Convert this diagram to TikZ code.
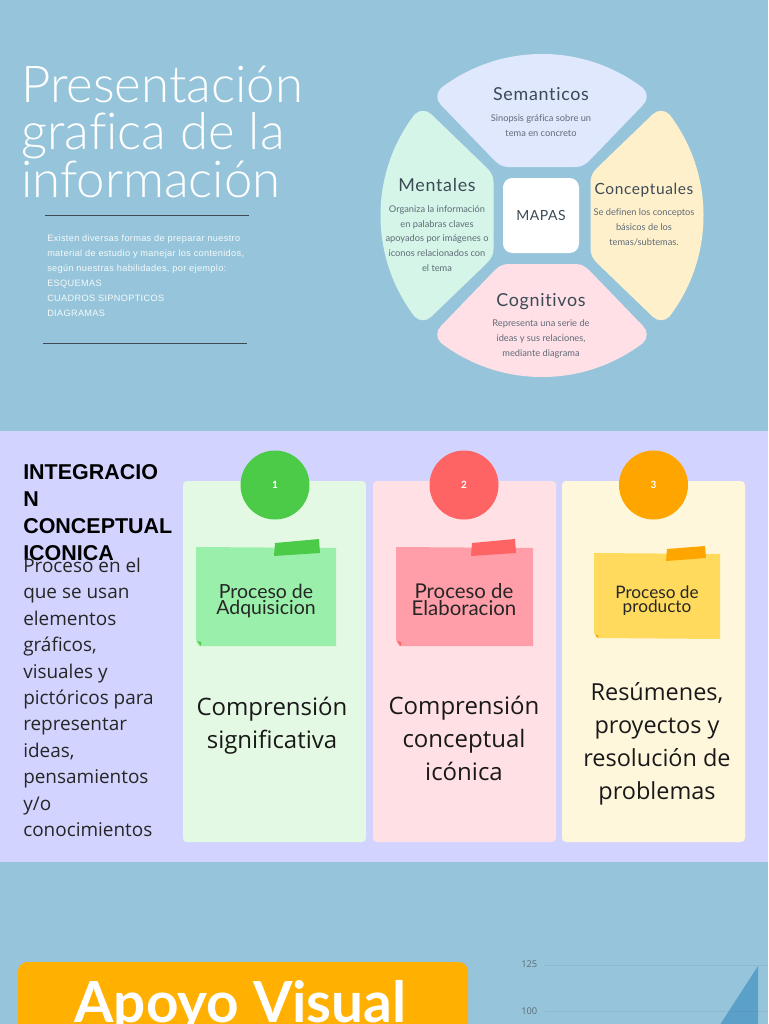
\documentclass[tikz,border=0pt]{standalone}
\usepackage{fontspec}
\setmainfont{Open Sans}
\newfontfamily\ttlf[Ligatures=NoCommon]{Lato Light}
\newfontfamily\headf[LetterSpace=4,Ligatures=NoCommon]{Lato}
\newfontfamily\smallf[Ligatures=NoCommon]{Lato}
\newfontfamily\tinyf[LetterSpace=3.5]{Liberation Sans}
\newfontfamily\arialf{Liberation Sans}
\newcommand{\fs}[2]{\fontsize{#1}{#2}\selectfont}
\definecolor{bgblue}{HTML}{96C5DB}
\definecolor{bglav}{HTML}{D2D4FF}
\definecolor{inkgrey}{HTML}{5F6B78}
\definecolor{inkdark}{HTML}{3C4A55}
\definecolor{petalblue}{HTML}{E0E8FD}
\definecolor{petalgreen}{HTML}{D5F5E8}
\definecolor{petalpink}{HTML}{FFE0E6}
\definecolor{petalyellow}{HTML}{FFF0CC}
\definecolor{cardgreen}{HTML}{E4F9E4}
\definecolor{cardpink}{HTML}{FFE0E4}
\definecolor{cardyellow}{HTML}{FFF7DC}
\definecolor{dotgreen}{HTML}{4CCB49}
\definecolor{dotred}{HTML}{FF6464}
\definecolor{dotorange}{HTML}{FFA500}
\definecolor{notegreen}{HTML}{9AF0AA}
\definecolor{notepink}{HTML}{FF9DA8}
\definecolor{noteyellow}{HTML}{FFDA5C}
\definecolor{banner}{HTML}{FFB000}
\definecolor{chartfill}{HTML}{5AA0C8}
\newcommand{\petal}{(-101,-127.5) .. controls (-72,-149.5) and (-37,-161.5) .. (0,-161.5) .. controls (37,-161.5) and (72,-149.5) .. (101,-127.5) .. controls (106,-122.5) and (106,-115.5) .. (101,-110.5) -- (48,-55.5) .. controls (43,-50.5) and (39,-48.5) .. (33,-48.5) -- (-33,-48.5) .. controls (-39,-48.5) and (-43,-50.5) .. (-48,-55.5) -- (-101,-110.5) .. controls (-106,-115.5) and (-106,-122.5) .. (-101,-127.5) -- cycle}
\tikzset{
 px/.style={x=0.75pt,y=-0.75pt},
 head/.style={text=inkdark,font=\headf\fs{13.4}{15}},
 body/.style={text=inkgrey,align=center,font=\smallf\fs{6.95}{11.1}},
 card/.style={rounded corners=3pt},
 num/.style={circle,minimum size=51.75pt,inner sep=0pt,text=white,font=\smallf\bfseries\fs{7.5}{9}},
 note/.style={text=black!85,align=center,font=\smallf\fs{14.6}{11.3}},
 big/.style={text=black!90,align=center,font=\fs{18}{24.7}},
 rule/.style={draw=inkdark,line width=0.6pt},
 axisnum/.style={text=inkgrey,font=\fs{7}{9},anchor=east},
 gridl/.style={draw=inkgrey,draw opacity=0.14,line width=0.6pt},
}
\begin{document}
\begin{tikzpicture}[px]
\useasboundingbox (0,0) rectangle (768,1024);
\fill[bgblue] (0,0) rectangle (768,1024);
\fill[bglav] (0,431) rectangle (768,862);
% title
\node[anchor=north west,inner sep=0pt,text=white,align=left,font=\ttlf\fs{38.2}{35.6}] (title) at (21,65.5) {Presentación\\grafica de la\\información};
\draw[rule] (45,215) -- (249,215);
\draw[rule] (43,343.5) -- (247,343.5);
\node[anchor=north west,inner sep=0pt,text=white!90!bgblue,align=left,font=\tinyf\fs{6.9}{11.25}] (intro) at (47,235) {Existen diversas formas de preparar nuestro\\material de estudio y manejar los contenidos,\\según nuestras habilidades, por ejemplo:\\ESQUEMAS\\CUADROS SIPNOPTICOS\\DIAGRAMAS};
% wheel
\begin{scope}[shift={(542,215.5)}]
\fill[petalblue] \petal;
\end{scope}
\begin{scope}[shift={(542,215.5)},rotate=90]
\fill[petalgreen] \petal;
\end{scope}
\begin{scope}[shift={(542,215.5)},rotate=180]
\fill[petalpink] \petal;
\end{scope}
\begin{scope}[shift={(542,215.5)},rotate=270]
\fill[petalyellow] \petal;
\end{scope}
\fill[white,rounded corners=7pt] (503,178) rectangle (579,253);
\node[text=inkdark,font=\headf\fs{10.5}{12}] (mapas) at (541,215.5) {MAPAS};
\node[head] (sem) at (541,94) {Semanticos};
\node[body] (semb) at (541,125.5) {Sinopsis gráfica sobre un\\tema en concreto};
\node[head] (men) at (437,184.5) {Mentales};
\node[body] (menb) at (437,238.5) {Organiza la información\\en palabras claves\\apoyados por imágenes o\\iconos relacionados con\\el tema};
\node[head,font=\headf\fs{11.6}{15}] (con) at (644,190.5) {Conceptuales};
\node[body] (conb) at (644,227) {Se definen los conceptos\\básicos de los\\temas/subtemas.};
\node[head] (cog) at (541,301.5) {Cognitivos};
\node[body] (cogb) at (541,339) {Representa una serie de\\ideas y sus relaciones,\\mediante diagrama};
% left column
\node[anchor=north west,inner sep=0pt,text=black,align=left,font=\arialf\bfseries\fs{16.1}{20.2}] (integ) at (23,464.5) {INTEGRACIO\\N\\CONCEPTUAL\\ICONICA};
\node[anchor=north west,inner sep=0pt,text=black!85,align=left,font=\fs{14.2}{19.85}] (proc) at (23,557.5) {Proceso en el\\que se usan\\elementos\\gráficos,\\visuales y\\pictóricos para\\representar\\ideas,\\pensamientos\\y/o\\conocimientos};
% cards
\fill[cardgreen,card] (183,481) rectangle (366,842);
\fill[cardpink,card] (373,481) rectangle (556,842);
\fill[cardyellow,card] (562,481) rectangle (745,842);
\node[num,fill=dotgreen] (n1) at (275,485) {1};
\node[num,fill=dotred] (n2) at (464,485) {2};
\node[num,fill=dotorange] (n3) at (653.5,485) {3};
% sticky notes
\fill[notegreen] (196,547) -- (336,548) -- (336,646) -- (199,646) -- (196,640) -- cycle;
\fill[dotgreen] (275,543) -- (319,539) -- (320,553) -- (274,556) -- cycle;
\fill[dotgreen] (197,641) -- (201,642) -- (201,646) -- cycle;
\fill[notepink] (396,547) -- (533,548) -- (533,646) -- (399,646) -- (396,640) -- cycle;
\fill[dotred] (472,543) -- (515,539) -- (516,553) -- (471,556) -- cycle;
\fill[dotred] (397,641) -- (401,642) -- (401,646) -- cycle;
\fill[noteyellow] (594,553) -- (720,554) -- (720,639) -- (597,638) -- (594,633) -- cycle;
\fill[dotorange] (667,549) -- (705,546) -- (706,558) -- (666,561) -- cycle;
\fill[dotorange] (595,635) -- (598,635) -- (598,638) -- cycle;
\node[note] (p1) at (266,601) {Proceso de\\Adquisicion};
\node[note,font=\smallf\fs{15.3}{11.3}] (p2) at (464,599.5) {Proceso de\\Elaboracion};
\node[note,font=\smallf\fs{12.9}{10.8}] (p3) at (657,600.5) {Proceso de\\producto};
\node[big] (b1) at (272,726) {Comprensión\\significativa};
\node[big] (b2) at (464,738) {Comprensión\\conceptual\\icónica};
\node[big,font=\fs{17.6}{24.6}] (b3) at (657,744) {Resúmenes,\\proyectos y\\resolución de\\problemas};
% bottom
\begin{scope}
\clip (0,0) rectangle (768,1024);
\fill[banner,rounded corners=7pt] (18,962) rectangle (468,1060);
\node[text=white,font=\smallf\bfseries\fs{42.5}{44},anchor=base] (apoyo) at (240.5,1022.5) {Apoyo Visual};
\fill[chartfill] (758,966) -- (758,1024) -- (720.5,1024) -- cycle;
\draw[gridl] (545,965) -- (768,965);
\draw[gridl] (545,1011.5) -- (768,1011.5);
\end{scope}
\node[axisnum] (a125) at (542,964.5) {125};
\node[axisnum] (a100) at (542,1011.5) {100};
\end{tikzpicture}
\end{document}
